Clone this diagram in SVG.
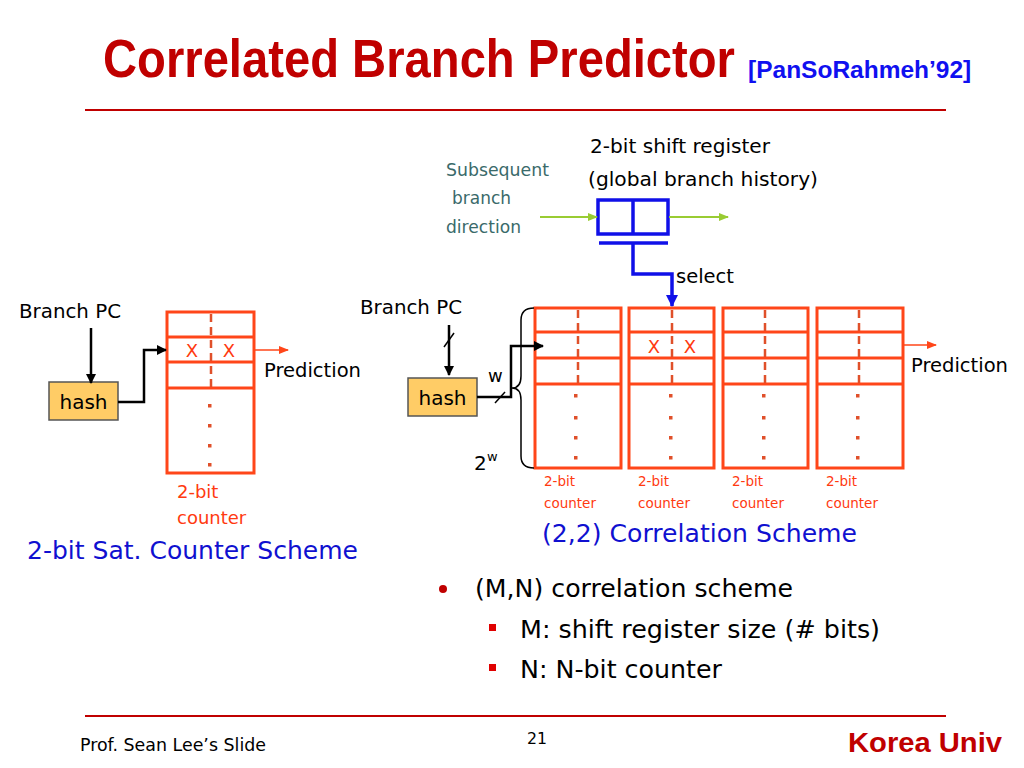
<svg xmlns="http://www.w3.org/2000/svg" width="1024" height="768" viewBox="0 0 1024 768">
<style>
.t{font-family:"DejaVu Sans","Liberation Sans",sans-serif;}
.tbl{fill:none;stroke:#FF4619;stroke-width:3;}
.row{stroke:#FF4619;stroke-width:3;}
.dash{stroke:#E0502A;stroke-width:2.5;stroke-dasharray:8 5;}
.dot{fill:#E0502A;}
.blk{fill:none;stroke:#000;stroke-width:2.5;}
.hash{fill:#FFCC66;stroke:#555;stroke-width:1.5;}
.blue{fill:none;stroke:#1010E8;stroke-width:3.5;}
.green{fill:none;stroke:#99CC33;stroke-width:1.8;}
.red{fill:none;stroke:#FF4619;stroke-width:1.5;}
.ctr{fill:#FF3A10;}
.x{fill:#FF3A10;font-size:18px;}
</style>
<defs>
<marker id="ab" markerWidth="10" markerHeight="10" refX="9" refY="5" orient="auto" markerUnits="userSpaceOnUse"><path d="M0,0 L10,5 L0,10 z" fill="#000"/></marker>
<marker id="ar" markerWidth="10" markerHeight="10" refX="9" refY="5" orient="auto" markerUnits="userSpaceOnUse"><path d="M0,1 L10,5 L0,9 z" fill="#FF4619"/></marker>
<marker id="ag" markerWidth="10" markerHeight="10" refX="9" refY="5" orient="auto" markerUnits="userSpaceOnUse"><path d="M0,1 L10,5 L0,9 z" fill="#99CC33"/></marker>
<marker id="abl" markerWidth="12" markerHeight="12" refX="11" refY="6" orient="auto" markerUnits="userSpaceOnUse"><path d="M0,0 L12,6 L0,12 z" fill="#1010E8"/></marker>
</defs>

<g id="title">
<g transform="translate(103,77) scale(0.874,1)">
<text x="0" y="0" font-family="'Liberation Sans',Arial,sans-serif" font-size="54" font-weight="bold" fill="#C00000">Correlated Branch Predictor</text>
</g>
<text x="748" y="78" font-family="'Liberation Sans',Arial,sans-serif" font-size="24.5" font-weight="bold" fill="#1010F0">[PanSoRahmeh’92]</text>
<line x1="85" y1="110" x2="946" y2="110" stroke="#C00000" stroke-width="2"/>
</g>

<!-- Left scheme -->
<g id="left-branchpc">
<text class="t" x="19" y="318" font-size="20" fill="#000" textLength="102" lengthAdjust="spacingAndGlyphs">Branch PC</text>
</g>
<g id="left-hash">
<rect class="hash" x="49" y="382" width="69" height="38"/>
<text class="t" x="83.5" y="409" font-size="20" fill="#000" text-anchor="middle">hash</text>
</g>
<g id="left-table">
<rect class="tbl" x="167" y="312" width="87" height="161"/>
<line class="row" x1="167" y1="337" x2="254" y2="337"/>
<line class="row" x1="167" y1="362" x2="254" y2="362"/>
<line class="row" x1="167" y1="388" x2="254" y2="388"/>
<line class="dash" x1="211" y1="314" x2="211" y2="388"/>
<rect class="dot" x="208" y="404" width="3.5" height="3.5"/>
<rect class="dot" x="208" y="424" width="3.5" height="3.5"/>
<rect class="dot" x="208" y="444" width="3.5" height="3.5"/>
<rect class="dot" x="208" y="463" width="3.5" height="3.5"/>
<text class="t x" x="192" y="357" text-anchor="middle">X</text>
<text class="t x" x="229" y="357" text-anchor="middle">X</text>
<text class="t ctr" x="177" y="498" font-size="18">2-bit</text>
<text class="t ctr" x="177" y="524" font-size="18">counter</text>
</g>
<g id="left-prediction">
<text class="t" x="264" y="377" font-size="20" fill="#000" textLength="97" lengthAdjust="spacingAndGlyphs">Prediction</text>
</g>
<g id="left-label">
<text class="t" x="27" y="559" font-size="24" fill="#1010D0" textLength="331" lengthAdjust="spacingAndGlyphs">2-bit Sat. Counter Scheme</text>
</g>

<!-- Right scheme -->
<g id="shift-register">
<rect class="blue" x="598" y="200" width="70" height="34"/>
<line class="blue" x1="633" y1="200" x2="633" y2="234"/>
<line class="blue" x1="599" y1="243" x2="668" y2="243"/>
<text class="t" x="590" y="153" font-size="20" fill="#000" textLength="180" lengthAdjust="spacingAndGlyphs">2-bit shift register</text>
<text class="t" x="588" y="186" font-size="20" fill="#000" textLength="230" lengthAdjust="spacingAndGlyphs">(global branch history)</text>
</g>
<g id="subsequent">
<text class="t" x="446" y="176" font-size="18" fill="#3A6A6A" textLength="103" lengthAdjust="spacingAndGlyphs">Subsequent</text>
<text class="t" x="452" y="204" font-size="18" fill="#3A6A6A" textLength="59" lengthAdjust="spacingAndGlyphs">branch</text>
<text class="t" x="446" y="233" font-size="18" fill="#3A6A6A" textLength="75" lengthAdjust="spacingAndGlyphs">direction</text>
</g>
<g id="select-label">
<text class="t" x="676" y="283" font-size="20" fill="#000" textLength="58" lengthAdjust="spacingAndGlyphs">select</text>
</g>
<g id="right-branchpc">
<text class="t" x="360" y="314" font-size="20" fill="#000" textLength="102" lengthAdjust="spacingAndGlyphs">Branch PC</text>
</g>
<g id="right-hash">
<rect class="hash" x="408" y="378" width="69" height="38"/>
<text class="t" x="442.5" y="405" font-size="20" fill="#000" text-anchor="middle">hash</text>
<text class="t" x="488" y="382" font-size="18" fill="#000">w</text>
<text class="t" x="474" y="470" font-size="20" fill="#000">2</text>
<text class="t" x="487" y="461" font-size="13" fill="#000">w</text>
</g>
<g id="table1">
<rect class="tbl" x="535" y="308" width="86" height="160"/>
<line class="row" x1="535" y1="332" x2="621" y2="332"/>
<line class="row" x1="535" y1="358" x2="621" y2="358"/>
<line class="row" x1="535" y1="384" x2="621" y2="384"/>
<line class="dash" x1="578" y1="310" x2="578" y2="384"/>
<rect class="dot" x="574" y="394" width="3.5" height="3.5"/>
<rect class="dot" x="574" y="416" width="3.5" height="3.5"/>
<rect class="dot" x="574" y="436" width="3.5" height="3.5"/>
<rect class="dot" x="574" y="456" width="3.5" height="3.5"/>
<text class="t ctr" x="544" y="486" font-size="13.5">2-bit</text>
<text class="t ctr" x="544" y="508" font-size="13.5">counter</text>
</g>
<g id="table2">
<rect class="tbl" x="629" y="308" width="85" height="160"/>
<line class="row" x1="629" y1="332" x2="714" y2="332"/>
<line class="row" x1="629" y1="358" x2="714" y2="358"/>
<line class="row" x1="629" y1="384" x2="714" y2="384"/>
<line class="dash" x1="672" y1="310" x2="672" y2="384"/>
<rect class="dot" x="669" y="394" width="3.5" height="3.5"/>
<rect class="dot" x="669" y="416" width="3.5" height="3.5"/>
<rect class="dot" x="669" y="436" width="3.5" height="3.5"/>
<rect class="dot" x="669" y="456" width="3.5" height="3.5"/>
<text class="t x" x="654" y="353" text-anchor="middle">X</text>
<text class="t x" x="690" y="353" text-anchor="middle">X</text>
<text class="t ctr" x="638" y="486" font-size="13.5">2-bit</text>
<text class="t ctr" x="638" y="508" font-size="13.5">counter</text>
</g>
<g id="table3">
<rect class="tbl" x="723" y="308" width="85" height="160"/>
<line class="row" x1="723" y1="332" x2="808" y2="332"/>
<line class="row" x1="723" y1="358" x2="808" y2="358"/>
<line class="row" x1="723" y1="384" x2="808" y2="384"/>
<line class="dash" x1="765" y1="310" x2="765" y2="384"/>
<rect class="dot" x="762" y="394" width="3.5" height="3.5"/>
<rect class="dot" x="762" y="416" width="3.5" height="3.5"/>
<rect class="dot" x="762" y="436" width="3.5" height="3.5"/>
<rect class="dot" x="762" y="456" width="3.5" height="3.5"/>
<text class="t ctr" x="732" y="486" font-size="13.5">2-bit</text>
<text class="t ctr" x="732" y="508" font-size="13.5">counter</text>
</g>
<g id="table4">
<rect class="tbl" x="817" y="308" width="86" height="160"/>
<line class="row" x1="817" y1="332" x2="903" y2="332"/>
<line class="row" x1="817" y1="358" x2="903" y2="358"/>
<line class="row" x1="817" y1="384" x2="903" y2="384"/>
<line class="dash" x1="859" y1="310" x2="859" y2="384"/>
<rect class="dot" x="856" y="394" width="3.5" height="3.5"/>
<rect class="dot" x="856" y="416" width="3.5" height="3.5"/>
<rect class="dot" x="856" y="436" width="3.5" height="3.5"/>
<rect class="dot" x="856" y="456" width="3.5" height="3.5"/>
<text class="t ctr" x="826" y="486" font-size="13.5">2-bit</text>
<text class="t ctr" x="826" y="508" font-size="13.5">counter</text>
</g>
<g id="right-prediction">
<text class="t" x="911" y="372" font-size="20" fill="#000" textLength="97" lengthAdjust="spacingAndGlyphs">Prediction</text>
</g>
<g id="right-label">
<text class="t" x="542" y="542" font-size="24" fill="#1010D0" textLength="315" lengthAdjust="spacingAndGlyphs">(2,2) Correlation Scheme</text>
</g>

<g id="bullets">
<circle cx="443" cy="589" r="4" fill="#C00000"/>
<text class="t" x="475" y="597" font-size="24" fill="#000" textLength="318" lengthAdjust="spacingAndGlyphs">(M,N) correlation scheme</text>
<rect x="489" y="624" width="7" height="7" fill="#E00000"/>
<text class="t" x="520" y="638" font-size="24" fill="#000" textLength="360" lengthAdjust="spacingAndGlyphs">M: shift register size (# bits)</text>
<rect x="489" y="664" width="7" height="7" fill="#E00000"/>
<text class="t" x="520" y="678" font-size="24" fill="#000" textLength="202" lengthAdjust="spacingAndGlyphs">N: N-bit counter</text>
</g>

<g id="connectors">
<line class="blk" x1="91" y1="328" x2="91" y2="383" marker-end="url(#ab)"/>
<polyline class="blk" points="118,402 144,402 144,350 166,350" stroke-width="2" marker-end="url(#ab)"/>
<line class="red" x1="254" y1="350" x2="288" y2="350" marker-end="url(#ar)"/>
<line class="blk" x1="449" y1="325" x2="449" y2="375" marker-end="url(#ab)"/>
<line x1="444" y1="347" x2="454" y2="333" stroke="#000" stroke-width="1.5"/>
<polyline class="blk" points="477,397 511,397 511,346 543,346" stroke-width="2" marker-end="url(#ab)"/>
<line x1="495" y1="403" x2="505" y2="392" stroke="#000" stroke-width="1.5"/>
<path d="M534,308 Q521,308 521,320 L521,376 Q521,388 512,388 Q521,388 521,400 L521,456 Q521,468 534,468" fill="none" stroke="#000" stroke-width="1.5"/>
<line class="red" x1="903" y1="345" x2="936" y2="345" marker-end="url(#ar)"/>
<line class="green" x1="540" y1="217" x2="597" y2="217" marker-end="url(#ag)"/>
<line class="green" x1="669" y1="217" x2="728" y2="217" marker-end="url(#ag)"/>
<polyline class="blue" points="633,243 633,274 672,274 672,306" marker-end="url(#abl)"/>
</g>

<g id="footer">
<line x1="85" y1="716" x2="946" y2="716" stroke="#C00000" stroke-width="2"/>
<text class="t" x="80" y="751" font-size="17" fill="#000" textLength="186" lengthAdjust="spacingAndGlyphs">Prof. Sean Lee’s Slide</text>
<text class="t" x="527" y="744" font-size="16" fill="#000" textLength="20" lengthAdjust="spacingAndGlyphs">21</text>
<text x="848" y="752" font-family="'Liberation Sans',Arial,sans-serif" font-size="28" font-weight="bold" fill="#C00000" textLength="154" lengthAdjust="spacingAndGlyphs">Korea Univ</text>
</g>
</svg>
